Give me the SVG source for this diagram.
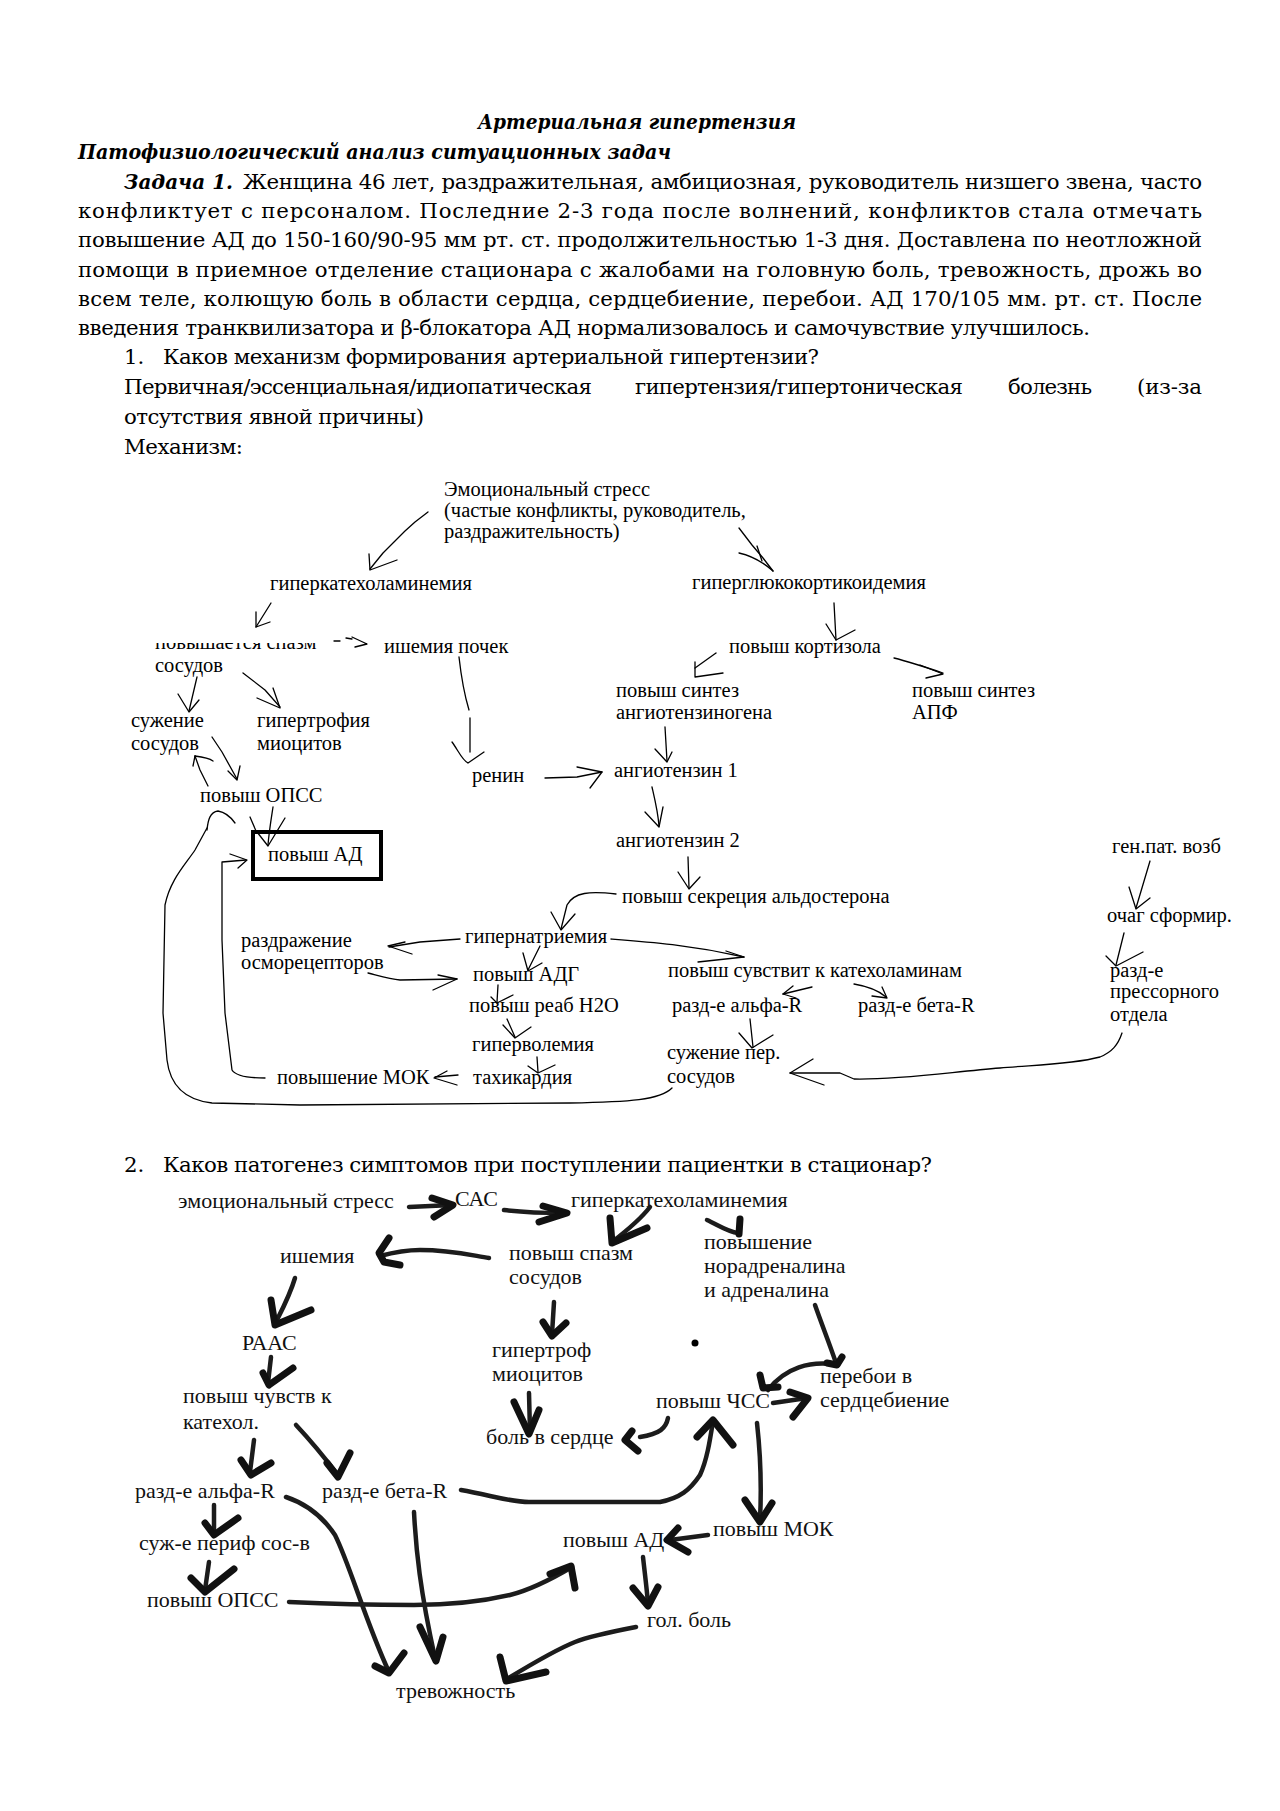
<svg xmlns="http://www.w3.org/2000/svg" width="1280" height="1811" viewBox="0 0 1280 1811">
<style>
.body{font-family:"DejaVu Serif","Liberation Serif",serif;font-size:21.3px;fill:#000}
.bi{font-weight:bold;font-style:italic}
.d1{font-family:"Liberation Serif","Times New Roman",serif;font-size:20.5px;fill:#000}
.d2{font-family:"Liberation Serif","Times New Roman",serif;font-size:22px;fill:#111}
.t{fill:none;stroke:#000;stroke-width:1.3;stroke-linejoin:round;stroke-linecap:round}
.b{fill:none;stroke:#1c1c1c;stroke-width:4.5;stroke-linejoin:round;stroke-linecap:round}
.bh{fill:none;stroke:#111;stroke-width:7;stroke-linejoin:round;stroke-linecap:round}
</style>
<defs>
<clipPath id="cut"><rect x="150" y="643" width="220" height="40"/></clipPath>
</defs>
<rect width="1280" height="1811" fill="#fff"/>

<g id="document-text" class="body">
<text x="478" y="129" class="bi" textLength="318" lengthAdjust="spacingAndGlyphs">Артериальная гипертензия</text>
<text x="78" y="159" class="bi" textLength="593" lengthAdjust="spacingAndGlyphs">Патофизиологический анализ ситуационных задач</text>
<text x="124" y="189" class="bi" textLength="109" lengthAdjust="spacingAndGlyphs">Задача 1.</text>
<text x="243" y="189" textLength="959" lengthAdjust="spacing">Женщина 46 лет, раздражительная, амбициозная, руководитель низшего звена, часто</text>
<text x="78" y="218" textLength="1124" lengthAdjust="spacing">конфликтует с персоналом. Последние 2-3 года после волнений, конфликтов стала отмечать</text>
<text x="78" y="247" textLength="1124" lengthAdjust="spacing">повышение АД до 150-160/90-95 мм рт. ст. продолжительностью 1-3 дня. Доставлена по неотложной</text>
<text x="78" y="277" textLength="1124" lengthAdjust="spacing">помощи в приемное отделение стационара с жалобами на головную боль, тревожность, дрожь во</text>
<text x="78" y="306" textLength="1124" lengthAdjust="spacing">всем теле, колющую боль в области сердца, сердцебиение, перебои. АД 170/105 мм. рт. ст. После</text>
<text x="78" y="335" textLength="1012" lengthAdjust="spacing">введения транквилизатора и β-блокатора АД нормализовалось и самочувствие улучшилось.</text>
<text x="124" y="364">1.</text>
<text x="163" y="364" textLength="656" lengthAdjust="spacing">Каков механизм формирования артериальной гипертензии?</text>
<text x="124" y="394" textLength="468" lengthAdjust="spacing">Первичная/эссенциальная/идиопатическая</text>
<text x="635" y="394" textLength="328" lengthAdjust="spacing">гипертензия/гипертоническая</text>
<text x="1008" y="394" textLength="84" lengthAdjust="spacing">болезнь</text>
<text x="1137" y="394" textLength="65" lengthAdjust="spacing">(из-за</text>
<text x="124" y="424" textLength="300" lengthAdjust="spacing">отсутствия явной причины)</text>
<text x="124" y="454" textLength="119" lengthAdjust="spacing">Механизм:</text>
<text x="124" y="1172">2.</text>
<text x="163" y="1172" textLength="769" lengthAdjust="spacing">Каков патогенез симптомов при поступлении пациентки в стационар?</text>
</g>

<g id="diagram1-nodes" class="d1">
<g id="n-stress"><text x="444" y="496">Эмоциональный стресс</text><text x="444" y="517">(частые конфликты, руководитель,</text><text x="444" y="538">раздражительность)</text></g>
<g id="n-hypercat"><text x="270" y="590">гиперкатехоламинемия</text></g>
<g id="n-hypergluco"><text x="692" y="589">гиперглюкокортикоидемия</text></g>
<g id="n-spasm"><text x="155" y="649" clip-path="url(#cut)">повышается спазм</text><text x="155" y="672">сосудов</text></g>
<g id="n-isch"><text x="384" y="653">ишемия почек</text></g>
<g id="n-cortisol"><text x="729" y="653">повыш кортизола</text></g>
<g id="n-angiogen"><text x="616" y="697">повыш синтез</text><text x="616" y="719">ангиотензиногена</text></g>
<g id="n-apf"><text x="912" y="697">повыш синтез</text><text x="912" y="719">АПФ</text></g>
<g id="n-narrow"><text x="131" y="727">сужение</text><text x="131" y="750">сосудов</text></g>
<g id="n-hypertr"><text x="257" y="727">гипертрофия</text><text x="257" y="750">миоцитов</text></g>
<g id="n-renin"><text x="472" y="782">ренин</text></g>
<g id="n-at1"><text x="614" y="777">ангиотензин 1</text></g>
<g id="n-opss"><text x="200" y="802">повыш ОПСС</text></g>
<g id="n-ad"><rect x="253" y="832" width="128" height="47" fill="none" stroke="#000" stroke-width="4"/><text x="268" y="861">повыш АД</text></g>
<g id="n-at2"><text x="616" y="847">ангиотензин 2</text></g>
<g id="n-gen"><text x="1112" y="853">ген.пат. возб</text></g>
<g id="n-aldo"><text x="622" y="903">повыш секреция альдостерона</text></g>
<g id="n-focus"><text x="1107" y="922">очаг сформир.</text></g>
<g id="n-osmo"><text x="241" y="947">раздражение</text><text x="241" y="969">осморецепторов</text></g>
<g id="n-hypernat"><text x="465" y="943">гипернатриемия</text></g>
<g id="n-sens"><text x="668" y="977">повыш сувствит к катехоламинам</text></g>
<g id="n-press"><text x="1110" y="977">разд-е</text><text x="1110" y="998">прессорного</text><text x="1110" y="1021">отдела</text></g>
<g id="n-adh"><text x="473" y="981">повыш АДГ</text></g>
<g id="n-reab"><text x="469" y="1012">повыш реаб H2O</text></g>
<g id="n-alpha"><text x="672" y="1012">разд-е альфа-R</text></g>
<g id="n-beta"><text x="858" y="1012">разд-е бета-R</text></g>
<g id="n-hypervol"><text x="472" y="1051">гиперволемия</text></g>
<g id="n-narrowper"><text x="667" y="1059">сужение пер.</text><text x="667" y="1083">сосудов</text></g>
<g id="n-mok"><text x="277" y="1084">повышение МОК</text></g>
<g id="n-tachy"><text x="473" y="1084">тахикардия</text></g>
</g>

<g id="diagram1-connectors" class="t">
<path d="M428,512 L415,522 L405,531 L394,542 L383,553 L370,569"/><path d="M369,554 L370,570 L397,560"/>
<path d="M739,528 L752,545 L763,558 L773,571"/><path d="M739,553 C752,556 763,562 773,571"/><path d="M757,546 L762,561"/>
<path d="M271,603 L256,627"/><path d="M256,612 L256,627 L270,622"/>
<path d="M334,641 L340,641"/><path d="M346,638 L352,639"/><path d="M352,637 L367,644 L355,647"/>
<path d="M459,657 C461,675 463,690 469,710"/><path d="M470,718 L470,752"/><path d="M452,742 C458,750 462,760 468,763 L484,752"/>
<path d="M197,677 L189,711"/><path d="M178,694 L189,712 L199,700"/>
<path d="M243,673 L265,690 L280,707"/><path d="M257,698 L280,708 L273,688"/>
<path d="M212,737 L222,752 L237,779"/><path d="M228,771 L237,780 L240,766"/>
<path d="M208,786 L200,770 L195,756"/><path d="M195,756 C203,757 209,758 213,761"/><path d="M193,766 L195,756"/>
<path d="M672,1088 C660,1100 630,1102 570,1103 L300,1105 L212,1103 C185,1100 170,1085 167,1060 L163,1013 L165,905 C170,880 185,865 195,850 L207,828"/><path d="M207,830 C208,820 210,812 218,811 C224,812 230,816 235,823"/>
<path d="M265,1078 C245,1078 235,1075 232,1070 L225,1013 L222,940 L222,862 L246,860"/><path d="M230,854 L247,860 L238,868"/>
<path d="M273,807 C271,820 269,832 268,845"/><path d="M257,832 L268,846 L285,818"/><path d="M250,817 L256,831"/>
<path d="M458,1075 L435,1077"/><path d="M447,1071 L434,1078 L457,1085"/>
<path d="M460,939 L420,942 L389,947"/><path d="M405,942 L388,946 L412,954"/>
<path d="M368,973 C380,976 390,979 400,980 L457,979"/><path d="M438,975 L457,979 L433,990"/>
<path d="M540,946 L528,970"/><path d="M523,953 L528,971 L542,963"/>
<path d="M498,985 L497,1002"/><path d="M491,997 L497,1003 L513,995"/>
<path d="M507,1019 L515,1037"/><path d="M503,1025 L515,1038 L531,1027"/>
<path d="M537,1057 L538,1072"/><path d="M528,1066 L538,1073 L555,1065"/>
<path d="M665,727 L667,761"/><path d="M655,749 L667,762 L672,752"/>
<path d="M545,778 L577,777 L602,772"/><path d="M577,767 L602,772 L590,788"/>
<path d="M652,787 C655,800 658,812 659,826"/><path d="M645,812 L659,827 L663,807"/>
<path d="M688,857 L689,888"/><path d="M678,872 L689,889 L700,877"/>
<path d="M616,894 C590,891 574,892 567,905 L561,929"/><path d="M551,912 L561,930 L575,914"/>
<path d="M611,939 C650,942 690,945 744,957"/><path d="M726,951 L744,957 L698,962"/>
<path d="M812,987 L783,994"/><path d="M793,986 L783,994 L796,998"/>
<path d="M854,984 C866,986 878,990 886,997"/><path d="M872,996 L887,998 L882,987"/>
<path d="M750,1019 L753,1047"/><path d="M739,1033 L752,1048 L773,1035"/>
<path d="M1122,1033 C1118,1045 1112,1052 1100,1057 C1070,1065 1030,1065 1000,1068 C950,1072 900,1080 854,1079 L840,1073 L790,1073"/><path d="M813,1059 L790,1073 L824,1085"/>
<path d="M1150,861 L1136,908"/><path d="M1129,887 L1136,909 L1150,898"/>
<path d="M1124,933 L1116,965"/><path d="M1106,956 L1116,966 L1143,952"/>
<path d="M834,603 L836,640"/><path d="M826,624 L836,640 L855,630"/>
<path d="M716,653 L695,668"/><path d="M695,662 L695,677 L723,673"/>
<path d="M894,658 C910,662 925,667 943,673"/><path d="M920,665 L943,674 L926,678"/>
</g>

<g id="diagram2-nodes" class="d2">
<g id="m-stress"><text x="178" y="1208">эмоциональный стресс</text></g>
<g id="m-sas"><text x="455" y="1206">САС</text></g>
<g id="m-hypercat"><text x="571" y="1207">гиперкатехоламинемия</text></g>
<g id="m-isch"><text x="280" y="1263">ишемия</text></g>
<g id="m-spasm"><text x="509" y="1260">повыш спазм</text><text x="509" y="1284">сосудов</text></g>
<g id="m-norad"><text x="704" y="1249">повышение</text><text x="704" y="1273">норадреналина</text><text x="704" y="1297">и адреналина</text></g>
<g id="m-raas"><text x="242" y="1350">РААС</text></g>
<g id="m-hypertr"><text x="492" y="1357">гипертроф</text><text x="492" y="1381">миоцитов</text></g>
<g id="m-dot"><circle cx="695" cy="1343" r="3.5" fill="#000"/></g>
<g id="m-pereboi"><text x="820" y="1383">перебои в</text><text x="820" y="1407">сердцебиение</text></g>
<g id="m-sens"><text x="183" y="1403">повыш чувств к</text><text x="183" y="1429">катехол.</text></g>
<g id="m-chss"><text x="656" y="1408">повыш ЧСС</text></g>
<g id="m-heart"><text x="486" y="1444">боль в сердце</text></g>
<g id="m-alpha"><text x="135" y="1498">разд-е альфа-R</text></g>
<g id="m-beta"><text x="322" y="1498">разд-е бета-R</text></g>
<g id="m-mok"><text x="713" y="1536">повыш МОК</text></g>
<g id="m-ad"><text x="563" y="1547">повыш АД</text></g>
<g id="m-narrow"><text x="139" y="1550">суж-е периф сос-в</text></g>
<g id="m-opss"><text x="147" y="1607">повыш ОПСС</text></g>
<g id="m-head"><text x="647" y="1627">гол. боль</text></g>
<g id="m-anx"><text x="396" y="1698">тревожность</text></g>
</g>

<g id="diagram2-connectors">
<g class="b">
<path d="M409,1207 L452,1205"/>
<path d="M504,1210 C520,1212 545,1213 566,1213"/>
<path d="M650,1207 C640,1220 625,1232 612,1242"/>
<path d="M707,1220 C718,1225 728,1232 738,1233"/>
<path d="M489,1258 C470,1255 450,1250 420,1250 C405,1250 395,1252 380,1256"/>
<path d="M295,1278 C290,1295 282,1310 275,1324"/>
<path d="M271,1357 L268,1383"/>
<path d="M554,1302 L552,1334"/>
<path d="M529,1393 L530,1432"/>
<path d="M668,1418 C666,1428 660,1434 640,1437"/>
<path d="M815,1305 C822,1325 830,1345 836,1363"/>
<path d="M838,1365 C810,1360 785,1368 768,1390"/>
<path d="M773,1403 L807,1398"/>
<path d="M757,1423 C760,1450 762,1480 760,1520"/>
<path d="M708,1535 L670,1540"/>
<path d="M643,1557 C645,1575 647,1590 648,1604"/>
<path d="M636,1627 C610,1632 590,1636 575,1642 C555,1650 530,1665 507,1679"/>
<path d="M286,1497 C310,1505 325,1520 335,1535 C350,1565 365,1620 389,1672"/>
<path d="M414,1512 C416,1550 420,1590 435,1658"/>
<path d="M289,1602 C330,1604 380,1605 414,1605 C450,1605 480,1602 510,1595 C530,1590 550,1580 572,1567"/>
<path d="M461,1490 C490,1495 510,1502 529,1502 L600,1502 L660,1502 C680,1498 690,1490 700,1475 C707,1460 710,1440 713,1421"/>
<path d="M254,1440 L250,1472"/>
<path d="M296,1425 C310,1440 325,1458 337,1474"/>
<path d="M214,1505 L214,1532"/>
<path d="M209,1562 L205,1590"/>
</g>
<g class="bh">
<path d="M432,1198 L453,1205 L434,1217"/>
<path d="M543,1206 L567,1213 L539,1222"/>
<path d="M610,1218 L612,1243 L647,1228"/>
<path d="M740,1219 L739,1234"/>
<path d="M389,1238 L379,1253 L384,1262 L400,1265"/>
<path d="M271,1300 L275,1325 L311,1310"/>
<path d="M263,1373 L269,1385 L293,1368"/>
<path d="M543,1322 L552,1336 L566,1323"/>
<path d="M514,1402 L529,1434 L539,1410"/>
<path d="M632,1431 L625,1440 L638,1451"/>
<path d="M827,1363 L837,1365 L842,1357"/>
<path d="M760,1375 L763,1388 L778,1387"/>
<path d="M790,1392 L808,1398 L793,1417"/>
<path d="M745,1500 L760,1522 L772,1503"/>
<path d="M678,1528 L667,1540 L688,1552"/>
<path d="M633,1588 L648,1606 L658,1587"/>
<path d="M500,1657 L506,1681 L546,1672"/>
<path d="M375,1666 L389,1673 L404,1653"/>
<path d="M420,1627 L436,1661 L443,1637"/>
<path d="M550,1574 L571,1566 L575,1588"/>
<path d="M697,1437 L713,1420 L733,1445"/>
<path d="M241,1460 L251,1475 L271,1463"/>
<path d="M327,1463 L338,1477 L350,1453"/>
<path d="M205,1523 L214,1535 L238,1518"/>
<path d="M191,1578 L205,1592 L234,1569"/>
</g>
</g>
</svg>
